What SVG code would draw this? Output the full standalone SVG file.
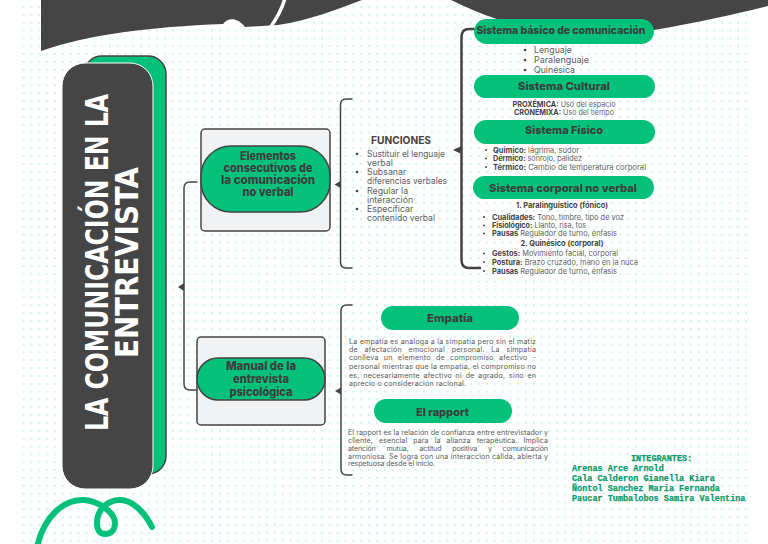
<svg xmlns="http://www.w3.org/2000/svg" width="768" height="544" viewBox="0 0 768 544">
<style>
text{font-family:"Inter","Noto Sans","Liberation Sans",sans-serif;fill:#555;}
.pill{fill:#03c17b;}
.ps{fill:#03c17b;stroke:#444;stroke-width:1.5;}
.box{fill:#f1f2f4;stroke:#444;stroke-width:1.5;}
.hd{font-weight:800;fill:#3a3f3e;text-anchor:middle;}
.nt{font-weight:800;font-size:11.5px;fill:#3a3f3e;text-anchor:middle;}
.li{font-size:8.8px;fill:#606060;}
.sm{font-size:7.5px;fill:#606060;}
.c{text-anchor:middle;}
.b{font-weight:700;fill:#444;}
.p{font-size:7.1px;fill:#5a5a5a;}
.m{font-family:"Liberation Mono","DejaVu Sans Mono",monospace;font-weight:700;font-size:8.5px;fill:#0a9a6a;stroke:#0a9a6a;stroke-width:0.25;}
.br{fill:none;stroke:#444;stroke-width:1.5;stroke-linecap:round;}
.ar{fill:#444;}
.dot{fill:#444;}
.t{font-family:"DejaVu Sans",sans-serif;font-weight:700;fill:#fff;}
</style>
<defs>
<pattern id="dots" x="22.7" y="6" width="7.85" height="7.85" patternUnits="userSpaceOnUse"><circle cx="0.9" cy="0.9" r="0.85" fill="#b4ebda"/></pattern>
</defs>
<rect width="768" height="544" fill="#fff"/>
<rect x="21" y="5" width="726" height="539" fill="url(#dots)"/>
<g id="decor">
<path d="M41,0V51C90,34 150,27 223,24L245,27L278,25C310,20 335,10 362,0Z" fill="#454545"/>
<path d="M451,0C480,14 495,19 515,24C590,42 620,36 654,30C700,22 735,14 768,6V0Z" fill="#454545"/>
<path d="M285,-2C282,10 277,18 270,28" fill="none" stroke="#fff" stroke-width="3.5"/>
<path d="M222,26C226,18 236,16 245,27Z" fill="#fff"/>
<path d="M37,547C44,516 64,499 84,500C98,501 115,512 115,523C115,531 110,534 105,534C100,534 97,530 97,523C97,510 107,500 120,500C133,500 145,513 152,527" fill="none" stroke="#03c17b" stroke-width="6" stroke-linecap="round"/>
</g>
<g id="title">
<rect x="84" y="56" width="82" height="418" rx="18" fill="#03c17b" stroke="#444" stroke-width="1.5"/>
<rect x="62" y="63" width="91" height="426" rx="23" fill="#454545" stroke="#fff" stroke-width="1"/>
<text class="t" transform="translate(107.500,431) rotate(-90)" font-size="32" textLength="337" lengthAdjust="spacingAndGlyphs">LA COMUNICACIÓN EN LA</text>
<text class="t" transform="translate(137.500,358) rotate(-90)" font-size="32" textLength="191" lengthAdjust="spacingAndGlyphs">ENTREVISTA</text>
</g>
<g id="connectors">
<path class="br" d="M197,182H190Q184,182 184,188V384Q184,390 190,390H197"/>
<path class="ar" d="M178,287L184,283V291Z"/>
<path class="br" d="M352,99H346Q340.500,99 340.500,105V262Q340.500,268 346,268H352"/>
<path class="ar" d="M334.500,184.500L340.500,181V188Z"/>
<path class="br" d="M352,305H347Q341,305 341,311V469Q341,475 347,475H352"/>
<path class="ar" d="M335,391L341,387.500V394.500Z"/>
<path class="br" style="stroke-width:2.500" d="M474,29H469Q461.500,29 461.500,37V260Q461.500,268 469,268H480"/>
<path class="ar" d="M453,150L461.500,146V154Z"/>
</g>
<g id="node-elementos">
<rect class="box" x="201" y="129" width="129" height="102" rx="4"/>
<rect class="ps" x="201" y="146" width="129" height="66" rx="30"/>
<text class="nt" x="268" y="160" textLength="56" lengthAdjust="spacingAndGlyphs">Elementos</text>
<text class="nt" x="268" y="172" textLength="89" lengthAdjust="spacingAndGlyphs">consecutivos de</text>
<text class="nt" x="268" y="184" textLength="94" lengthAdjust="spacingAndGlyphs">la comunicación</text>
<text class="nt" x="268" y="196" textLength="51" lengthAdjust="spacingAndGlyphs">no verbal</text>
</g>
<g id="node-manual">
<rect class="box" x="197" y="337" width="128" height="88" rx="4"/>
<rect class="ps" x="197" y="358" width="128" height="42" rx="21"/>
<text class="nt" x="261" y="370" textLength="70" lengthAdjust="spacingAndGlyphs">Manual de la</text>
<text class="nt" x="261" y="383" textLength="56" lengthAdjust="spacingAndGlyphs">entrevista</text>
<text class="nt" x="261" y="396" textLength="63" lengthAdjust="spacingAndGlyphs">psicológica</text>
</g>
<g id="node-funciones">
<text x="401" y="144" font-size="10.500" font-weight="700" style="fill:#444" text-anchor="middle" textLength="60" lengthAdjust="spacingAndGlyphs">FUNCIONES</text>
<g class="dot"><circle cx="357" cy="154" r="1.300"/><circle cx="357" cy="172" r="1.300"/><circle cx="357" cy="191" r="1.300"/><circle cx="357" cy="209" r="1.300"/></g>
<text class="li" x="367" y="157" textLength="78" lengthAdjust="spacingAndGlyphs">Sustituir el lenguaje</text>
<text class="li" x="367" y="166">verbal</text>
<text class="li" x="367" y="175">Subsanar</text>
<text class="li" x="367" y="184" textLength="80" lengthAdjust="spacingAndGlyphs">diferencias verbales</text>
<text class="li" x="367" y="194">Regular la</text>
<text class="li" x="367" y="203">interacción</text>
<text class="li" x="367" y="212">Especificar</text>
<text class="li" x="367" y="221" textLength="68" lengthAdjust="spacingAndGlyphs">contenido verbal</text>
</g>
<g id="node-basico">
<rect class="pill" x="474" y="19" width="180" height="25" rx="12.500"/>
<text class="hd" x="561" y="34" font-size="10.800" textLength="169" lengthAdjust="spacingAndGlyphs">Sistema básico de comunicación</text>
<g class="dot"><circle cx="525" cy="50" r="1.300"/><circle cx="525" cy="60" r="1.300"/><circle cx="525" cy="70" r="1.300"/></g>
<text class="li" x="534" y="53" textLength="38" lengthAdjust="spacingAndGlyphs">Lenguaje</text>
<text class="li" x="534" y="63" textLength="55" lengthAdjust="spacingAndGlyphs">Paralenguaje</text>
<text class="li" x="534" y="73" textLength="41" lengthAdjust="spacingAndGlyphs">Quinésica</text>
</g>
<g id="node-cultural">
<rect class="pill" x="474" y="75" width="181" height="23" rx="11.500"/>
<text class="hd" x="564" y="90" font-size="11" textLength="92" lengthAdjust="spacingAndGlyphs">Sistema Cultural</text>
<text class="sm c" x="564" y="106.500" textLength="103" lengthAdjust="spacingAndGlyphs"><tspan class="b">PROXÉMICA:</tspan> Uso del espacio</text>
<text class="sm c" x="564" y="114.500" textLength="100" lengthAdjust="spacingAndGlyphs"><tspan class="b">CRONÉMIXA:</tspan> Uso del tiempo</text>
</g>
<g id="node-fisico">
<rect class="pill" x="474" y="120" width="181" height="24" rx="12"/>
<text class="hd" x="564" y="134" font-size="11" textLength="78" lengthAdjust="spacingAndGlyphs">Sistema Físico</text>
<g class="dot"><circle cx="486" cy="150" r="1"/><circle cx="486" cy="158.500" r="1"/><circle cx="486" cy="167" r="1"/></g>
<text class="sm" x="493" y="153" textLength="86" lengthAdjust="spacingAndGlyphs"><tspan class="b">Químico:</tspan> lágrima, sudor</text>
<text class="sm" x="493" y="161" textLength="89" lengthAdjust="spacingAndGlyphs"><tspan class="b">Dérmico:</tspan> sonrojo, palidez</text>
<text class="sm" x="493" y="169.500" textLength="153" lengthAdjust="spacingAndGlyphs"><tspan class="b">Térmico:</tspan> Cambio de temperatura corporal</text>
</g>
<g id="node-corporal">
<rect class="pill" x="473" y="176" width="181" height="23" rx="11.500"/>
<text class="hd" x="563" y="192" font-size="11" textLength="148" lengthAdjust="spacingAndGlyphs">Sistema corporal no verbal</text>
<text class="sm c b" x="562" y="208" textLength="92" lengthAdjust="spacingAndGlyphs">1. Paralinguístico (fónico)</text>
<g class="dot"><circle cx="484" cy="217" r="1"/><circle cx="484" cy="225.500" r="1"/><circle cx="484" cy="233.500" r="1"/><circle cx="484" cy="253.500" r="1"/><circle cx="484" cy="262" r="1"/><circle cx="484" cy="271" r="1"/></g>
<text class="sm" x="492" y="220" textLength="132" lengthAdjust="spacingAndGlyphs"><tspan class="b">Cualidades:</tspan> Tono, timbre, tipo de voz</text>
<text class="sm" x="492" y="228" textLength="94" lengthAdjust="spacingAndGlyphs"><tspan class="b">Fisiológico:</tspan> Llanto, risa, tos</text>
<text class="sm" x="492" y="236" textLength="125" lengthAdjust="spacingAndGlyphs"><tspan class="b">Pausas</tspan> Regulador de turno, énfasis</text>
<text class="sm c b" x="562" y="246" textLength="83" lengthAdjust="spacingAndGlyphs">2. Quinésico (corporal)</text>
<text class="sm" x="492" y="256" textLength="126" lengthAdjust="spacingAndGlyphs"><tspan class="b">Gestos:</tspan> Movimiento facial, corporal</text>
<text class="sm" x="492" y="265" textLength="146" lengthAdjust="spacingAndGlyphs"><tspan class="b">Postura:</tspan> Brazo cruzado, mano en la nuca</text>
<text class="sm" x="492" y="274" textLength="125" lengthAdjust="spacingAndGlyphs"><tspan class="b">Pausas</tspan> Regulador de turno, énfasis</text>
</g>
<g id="node-empatia">
<rect class="pill" x="381" y="306" width="138" height="24" rx="12"/>
<text class="hd" x="450" y="322" font-size="11" textLength="46" lengthAdjust="spacingAndGlyphs">Empatía</text>
<text class="p" x="349" y="343.500" textLength="187">La empatía es análoga a la simpatía pero sin el matiz</text>
<text class="p" x="349" y="351.500" textLength="187" word-spacing="4.500">de afectación emocional personal. La simpatía</text>
<text class="p" x="349" y="359.500" textLength="187" word-spacing="3">conlleva un elemento de compromiso afectivo -</text>
<text class="p" x="349" y="368.500" textLength="187">personal mientras que la empatía, el compromiso no</text>
<text class="p" x="349" y="377.500" textLength="187" word-spacing="1.500">es, necesariamente afectivo ni de agrado, sino en</text>
<text class="p" x="349" y="385.500" textLength="117">aprecio o consideración racional.</text>
</g>
<g id="node-rapport">
<rect class="pill" x="374" y="399" width="138" height="24" rx="12"/>
<text class="hd" x="442.500" y="416" font-size="11" textLength="53" lengthAdjust="spacingAndGlyphs">El rapport</text>
<text class="p" x="348" y="435" textLength="200">El rapport es la relación de confianza entre entrevistador y</text>
<text class="p" x="348" y="442.500" textLength="200" word-spacing="4">cliente, esencial para la alianza terapéutica. Implica</text>
<text class="p" x="348" y="450.500" textLength="200" word-spacing="9">atención mutua, actitud positiva y comunicación</text>
<text class="p" x="348" y="458.500" textLength="200">armoniosa. Se logra con una interacción cálida, abierta y</text>
<text class="p" x="348" y="465.500" textLength="87">respetuosa desde el inicio.</text>
</g>
<g id="integrantes">
<text class="m" x="631" y="461">INTEGRANTES:</text>
<text class="m" x="572" y="471">Arenas Arce Arnold</text>
<text class="m" x="572" y="481">Cala Calderon Gianella Kiara</text>
<text class="m" x="572" y="491">Ñontol Sanchez Maria Fernanda</text>
<text class="m" x="572" y="501">Paucar Tumbalobos Samira Valentina</text>
</g>
</svg>
